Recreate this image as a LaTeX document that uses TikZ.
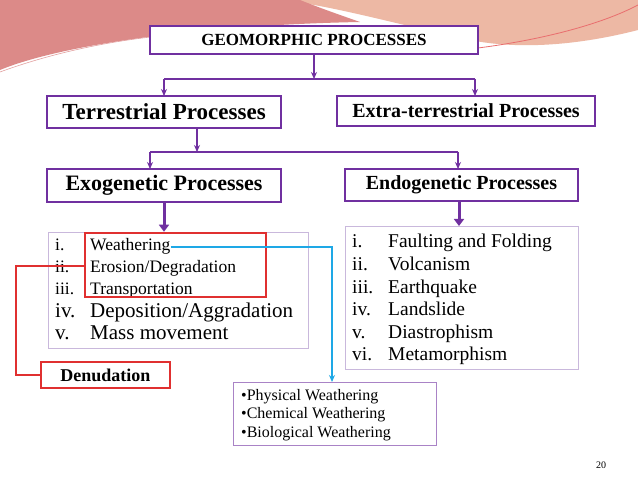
\documentclass[tikz,border=0pt]{standalone}
\usepackage{fontspec}
\setmainfont{Liberation Serif}
\usetikzlibrary{arrows.meta}
\definecolor{pur}{HTML}{7030A0}
\definecolor{lpur}{HTML}{C9B8DC}
\definecolor{red1}{HTML}{E03030}
\definecolor{blu}{HTML}{1EA8E6}
\definecolor{pinkd}{HTML}{DC8A88}
\definecolor{peach}{HTML}{EDB8A4}
\begin{document}
\begin{tikzpicture}[x=1pt,y=-1pt,
  pbox/.style={draw=pur,line width=1.3pt,fill=white,inner sep=0pt,font=\bfseries},
  lbox/.style={draw=lpur,line width=0.5pt,fill=white},
  conn/.style={draw=pur,line width=1.3pt},
  arr/.style={conn,-{Stealth[length=7pt,width=6pt]}},
  tarr/.style={draw=pur,line width=3pt,-{Triangle[length=7pt,width=10pt]}}]
\useasboundingbox (0,0) rectangle (638,478);
\fill[white] (0,0) rectangle (638,478);
% decorative top
\fill[peach] (280,0) -- (638,0) -- (638,30) .. controls (580,45) and (520,50) .. (470,40) .. controls (400,25) and (330,5) .. (280,0) -- cycle;
\fill[pinkd] (0,0) -- (300,0) .. controls (320,8) and (340,15) .. (360,22) .. controls (200,25) and (60,45) .. (0,70) -- cycle;
\draw[pinkd!80,line width=0.6pt] (0,72) .. controls (60,50) and (120,40) .. (160,36);
\draw[red1!70,line width=0.8pt] (478,48) .. controls (540,40) and (600,25) .. (638,5);
% nodes
\node[pbox,minimum width=328,minimum height=28,font=\bfseries\fontsize{17}{19}\selectfont] (geo) at (314,40) {GEOMORPHIC PROCESSES};
\node[pbox,minimum width=234,minimum height=32,font=\bfseries\fontsize{23}{25}\selectfont] (ter) at (164,112) {Terrestrial Processes};
\node[pbox,minimum width=258,minimum height=30,font=\bfseries\fontsize{20}{22}\selectfont] (ext) at (466,111) {Extra-terrestrial Processes};
\node[pbox,minimum width=234,minimum height=33,font=\bfseries\fontsize{22}{24}\selectfont] (exo) at (164,185.5) {Exogenetic Processes};
\node[pbox,minimum width=233,minimum height=32,font=\bfseries\fontsize{20}{22}\selectfont] (endo) at (461.5,185) {Endogenetic Processes};
\node[lbox,minimum width=260,minimum height=116,inner sep=0pt] (exol) at (178,290) {};
\node[lbox,minimum width=233,minimum height=143,inner sep=0pt] (endol) at (461.5,297.5) {};
\begin{scope}[every node/.style={anchor=base west,inner sep=0pt}]
\node[font=\fontsize{17.5}{19}\selectfont] at (55,251) {i.};
\node[font=\fontsize{17.5}{19}\selectfont] (wea) at (90,251) {Weathering};
\node[font=\fontsize{17.5}{19}\selectfont] at (55,273) {ii.};
\node[font=\fontsize{17.5}{19}\selectfont] at (90,273) {Erosion/Degradation};
\node[font=\fontsize{17.5}{19}\selectfont] at (55,295) {iii.};
\node[font=\fontsize{17.5}{19}\selectfont] at (90,295) {Transportation};
\node[font=\fontsize{21}{23}\selectfont] at (55,318) {iv.};
\node[font=\fontsize{21}{23}\selectfont] at (90,318) {Deposition/Aggradation};
\node[font=\fontsize{21}{23}\selectfont] at (55,340) {v.};
\node[font=\fontsize{21}{23}\selectfont] at (90,340) {Mass movement};
\foreach \n/\t/\y in {i./Faulting and Folding/248,ii./Volcanism/271,iii./Earthquake/294,iv./Landslide/316,v./Diastrophism/339,vi./Metamorphism/361}{
  \node[font=\fontsize{19.5}{21}\selectfont] at (352,\y) {\n};
  \node[font=\fontsize{19.5}{21}\selectfont] at (388,\y) {\t};}
\end{scope}
\node[draw=red1,line width=1.3pt,minimum width=181,minimum height=64,inner sep=0pt] (redb) at (175.5,265) {};
\node[draw=red1,line width=1.3pt,fill=white,minimum width=129,minimum height=26,inner sep=0pt,font=\bfseries\fontsize{18}{20}\selectfont] (den) at (105.5,375) {Denudation};
\node[lbox,draw=pur!60,minimum width=203,minimum height=63,inner sep=0pt] (wbox) at (334.5,413.5) {};
\begin{scope}[every node/.style={anchor=base west,inner sep=0pt,font=\fontsize{16}{18}\selectfont}]
\node at (241,401) {•Physical Weathering};
\node at (241,419) {•Chemical Weathering};
\node at (241,438) {•Biological Weathering};
\end{scope}
\node[font=\fontsize{10}{11}\selectfont] (pg) at (601,465) {20};
% connectors
\coordinate (j1) at (314,79);
\draw[arr] (geo.south) -- (j1);
\draw[conn] (164,79) -- (475,79);
\draw[arr] (164,79) -- (164,96);
\draw[arr] (475,79) -- (475,96);
\coordinate (j2) at (197,152);
\draw[arr] (197,128) -- (j2);
\draw[conn] (150,152) -- (458,152);
\draw[arr] (150,152) -- (150,169);
\draw[arr] (458,152) -- (458,169);
\draw[tarr] (exo.south) -- (exo.south |- exol.north);
\draw[tarr] (459,201) -- (459,226);
\draw[red1,line width=1.3pt] (redb.west |- 0,266) -- (16,266) -- (16,375) -- (den.west);
\coordinate (bend) at (332,382);
\draw[blu,line width=1.5pt,-{Stealth[length=7pt,width=6pt]}] (wea.east) -| (bend);
\end{tikzpicture}
\end{document}
